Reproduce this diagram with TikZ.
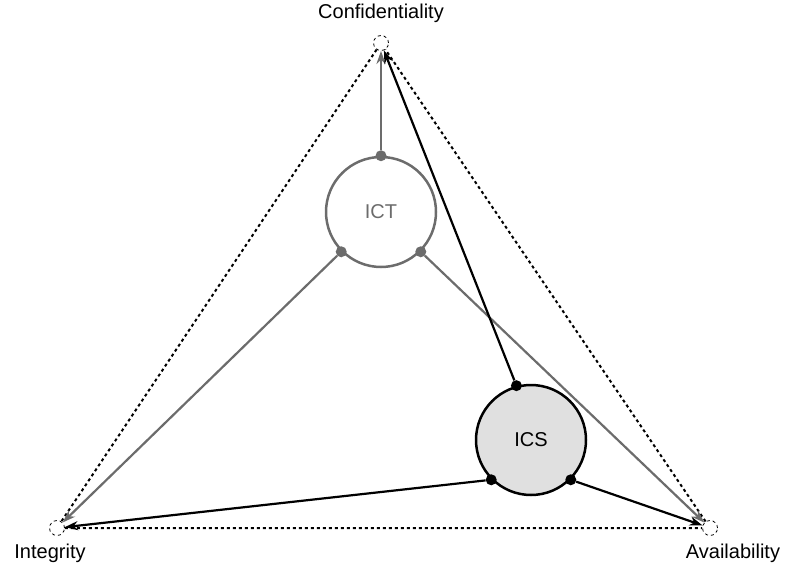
\documentclass[tikz,border=0pt]{standalone}
\usepackage{fontspec}
\setmainfont{Liberation Sans}
\usetikzlibrary{arrows.meta}
\begin{document}
\begin{tikzpicture}[x=1pt,y=-1pt,
  vert/.style={circle,draw,dashed,minimum size=15pt,inner sep=0pt,thick},
  dot/.style={circle,fill,minimum size=11pt,inner sep=0pt},
  garr/.style={draw=gray!85!black,line width=2.2pt,-{Stealth[length=13pt,width=9pt]}},
  barr/.style={draw=black,line width=2.2pt,-{Stealth[length=13pt,width=9pt]}},
  lbl/.style={font=\fontsize{20}{24}\selectfont}]
\useasboundingbox (0,0) rectangle (805,585);
\node[vert] (C) at (381,43) {};
\node[vert] (I) at (57,528) {};
\node[vert] (A) at (710,528) {};
\draw[dashed,line width=2pt] (C) -- (I) -- (A) -- (C);
\node[lbl] at (381,13) {Confidentiality};
\node[lbl] at (50,553) {Integrity};
\node[lbl] at (733,553) {Availability};
\node[circle,draw=gray!85!black,line width=2.5pt,minimum size=110pt,text=gray!85!black,lbl] (ICT) at (381,212) {ICT};
\node[circle,draw=black,fill=black!12,line width=2.5pt,minimum size=110pt,lbl] (ICS) at (531,440) {ICS};
\node[dot,gray!85!black] (t1) at (ICT.90) {};
\node[dot,gray!85!black] (t2) at (ICT.225) {};
\node[dot,gray!85!black] (t3) at (ICT.315) {};
\node[dot] (s1) at (ICS.105) {};
\node[dot] (s2) at (ICS.225) {};
\node[dot] (s3) at (ICS.315) {};
\draw[garr] (t1) -- (C);
\draw[garr] (t2) -- (I);
\draw[garr] (t3) -- (A);
\draw[barr] (s1) -- (C);
\draw[barr] (s2) -- (I);
\draw[barr] (s3) -- (A);
\end{tikzpicture}
\end{document}
